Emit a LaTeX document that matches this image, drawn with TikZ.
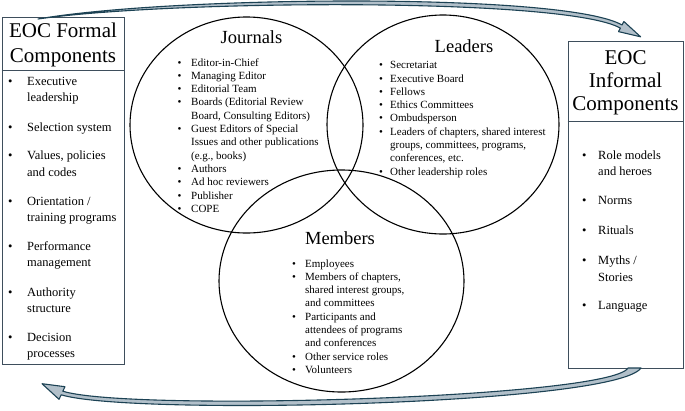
\documentclass[tikz,border=0pt]{standalone}
\usepackage{fontspec}
\setmainfont{Liberation Serif}
\definecolor{boxcol}{RGB}{62,78,92}
\definecolor{arrowline}{RGB}{28,66,84}
\definecolor{arrowfill}{RGB}{178,192,202}
\newcommand{\bl}[1]{\makebox[#1][l]{\textbullet}}
\begin{document}
\begin{tikzpicture}[x=1pt,y=-1pt,
  venn/.style={draw=black, line width=1.1pt},
  compbox/.style={draw=boxcol, line width=0.9pt},
  blockarrow/.style={draw=arrowline, fill=arrowfill, line width=1.1pt, line join=round},
  ventitle/.style={inner sep=0pt, font=\fontsize{18.5}{20}\selectfont},
  boxtitle/.style={inner sep=0pt, anchor=base, font=\fontsize{21}{24}\selectfont},
  venlist/.style={inner sep=0pt, anchor=north west, align=left, font=\fontsize{11}{13.3}\selectfont},
  boxlist/.style={inner sep=0pt, anchor=north west, align=left, font=\fontsize{12.5}{16.5}\selectfont}]
\useasboundingbox (0,0) rectangle (685,410);
\fill[white] (0,0) rectangle (685,410);

% Venn ellipses
\coordinate (jc) at (246.5,125);
\coordinate (lc) at (443,124.5);
\coordinate (mc) at (341.5,281);
\draw[venn] (jc) ellipse [x radius=116.5, y radius=108];
\draw[venn] (lc) ellipse [x radius=116, y radius=109.5];
\draw[venn] (mc) ellipse [x radius=122.5, y radius=111];

\node[ventitle] (jt) at (251.5,37.5) {Journals};
\node[ventitle] (lt) at (464,46.5) {Leaders};
\node[ventitle] (mt) at (340,238.5) {Members};

\node[venlist] (jl) at (177.4,56.5) {%
\begin{tabular}{@{}l@{}l@{}}
\bl{13.6pt}&Editor-in-Chief\\
\bl{13.6pt}&Managing Editor\\
\bl{13.6pt}&Editorial Team\\
\bl{13.6pt}&Boards (Editorial Review\\
&Board, Consulting Editors)\\
\bl{13.6pt}&Guest Editors of Special\\
&Issues and other publications\\
&(e.g., books)\\
\bl{13.6pt}&Authors\\
\bl{13.6pt}&Ad hoc reviewers\\
\bl{13.6pt}&Publisher\\
\bl{13.6pt}&COPE
\end{tabular}};

\node[venlist] (ll) at (379,59.2) {%
\begin{tabular}{@{}l@{}l@{}}
\bl{11pt}&Secretariat\\
\bl{11pt}&Executive Board\\
\bl{11pt}&Fellows\\
\bl{11pt}&Ethics Committees\\
\bl{11pt}&Ombudsperson\\
\bl{11pt}&Leaders of chapters, shared interest\\
&groups, committees, programs,\\
&conferences, etc.\\
\bl{11pt}&Other leadership roles
\end{tabular}};

\node[venlist] (ml) at (292,257.5) {%
\begin{tabular}{@{}l@{}l@{}}
\bl{13pt}&Employees\\
\bl{13pt}&Members of chapters,\\
&shared interest groups,\\
&and committees\\
\bl{13pt}&Participants and\\
&attendees of programs\\
&and conferences\\
\bl{13pt}&Other service roles\\
\bl{13pt}&Volunteers
\end{tabular}};

% Formal components box
\node[compbox, inner sep=0pt, minimum width=122pt, minimum height=347pt] (formal) at (63,190.5) {};
\draw[compbox] (formal.west |- 0,70) -- (formal.east |- 0,70);
\node[boxtitle] (ft1) at (63,37) {EOC Formal};
\node[boxtitle] (ft2) at (63,62) {Components};
\node[boxlist] (fl) at (8,73.5) {%
\begin{tabular}{@{}l@{}l@{}}
\bl{19pt}&Executive\\
&leadership\\[13pt]
\bl{19pt}&Selection system\\[12pt]
\bl{19pt}&Values, policies\\
&and codes\\[12.5pt]
\bl{19pt}&Orientation /\\
&training programs\\[12pt]
\bl{19pt}&Performance\\
&management\\[13pt]
\bl{19pt}&Authority\\
&structure\\[12pt]
\bl{19pt}&Decision\\
&processes
\end{tabular}};

% Informal components box
\node[compbox, inner sep=0pt, minimum width=115pt, minimum height=327pt] (informal) at (625.5,204.5) {};
\draw[compbox] (informal.west |- 0,121) -- (informal.east |- 0,121);
\node[boxtitle] (it1) at (625.5,64) {EOC};
\node[boxtitle] (it2) at (625.5,87) {Informal};
\node[boxtitle] (it3) at (625.5,110) {Components};
\node[boxlist] (il) at (582,147.5) {%
\begin{tabular}{@{}l@{}l@{}}
\bl{16pt}&Role models\\
&and heroes\\[12.5pt]
\bl{16pt}&Norms\\[13pt]
\bl{16pt}&Rituals\\[14pt]
\bl{16pt}&Myths /\\
&Stories\\[12pt]
\bl{16pt}&Language
\end{tabular}};

% Top curved block arrow: formal -> informal
\draw[blockarrow] (38,19) .. controls (170,-4) and (565,-8) .. (622,25)
  -- (623.9,21.5) -- (640.6,36.8) -- (618.5,31.6) -- (620.4,28.1)
  .. controls (565,-3) and (170,0) .. (38,19) -- cycle;

% Bottom curved block arrow: informal -> formal
\draw[blockarrow] (628,368) .. controls (610,398) and (130,412) .. (62.8,391.2)
  -- (65,386.7) -- (42,383.7) -- (59,399.3) -- (61.2,394.8)
  .. controls (130,416) and (615,405) .. (641,368) -- cycle;
\end{tikzpicture}
\end{document}
